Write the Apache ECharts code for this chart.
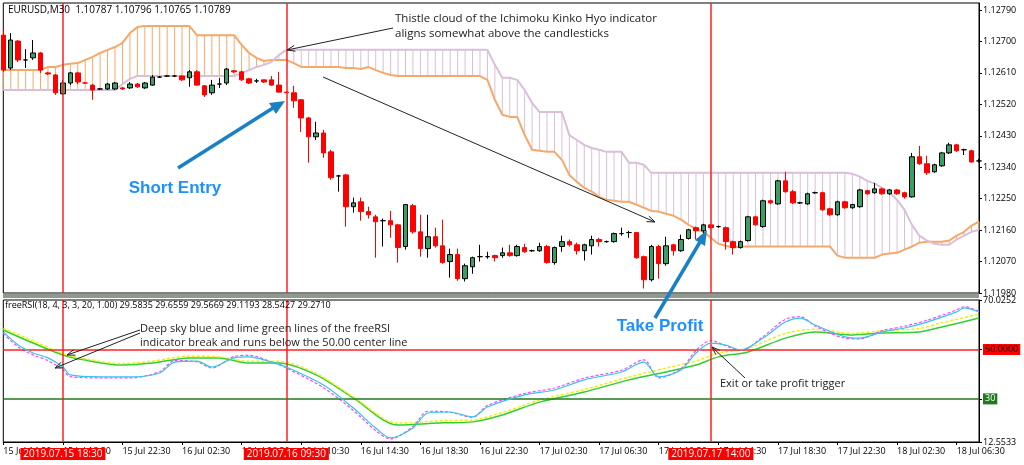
<!DOCTYPE html>
<html>
<head>
<meta charset="utf-8" />
<script src="https://cdn.jsdelivr.net/npm/echarts@6/dist/echarts.min.js"></script>
<style>
  html, body { margin: 0; padding: 0; background: #fff; }
  #main { width: 1024px; height: 465px; }
</style>
</head>
<body>
<div id="main"></div>
<script type="text/javascript">
// EURUSD M30 candles: open / close / low / high
var opens = [1.12718,1.12624,1.12701,1.12647,1.12653,1.12667,1.12610,1.12604,1.12550,1.12581,
  1.12610,1.12581,1.12575,1.12564,1.12564,1.12564,1.12567,1.12567,1.12578,1.12567,
  1.12575,1.12598,1.12601,1.12601,1.12601,1.12596,1.12613,1.12573,1.12553,1.12578,
  1.12581,1.12616,1.12613,1.12593,1.12587,1.12590,1.12590,1.12575,1.12555,1.12553,
  1.12533,1.12481,1.12427,1.12438,1.12384,1.12315,1.12318,1.12227,1.12241,1.12213,
  1.12198,1.12187,1.12187,1.12175,1.12113,1.12230,1.12155,1.12107,1.12141,1.12115,
  1.12070,1.12090,1.12021,1.12055,1.12084,1.12084,1.12087,1.12087,1.12095,1.12087,
  1.12110,1.12101,1.12101,1.12113,1.12067,1.12113,1.12127,1.12118,1.12101,1.12115,
  1.12133,1.12127,1.12127,1.12150,1.12153,1.12153,1.12084,1.12018,1.12113,1.12064,
  1.12118,1.12101,1.12136,1.12167,1.12158,1.12175,1.12170,1.12167,1.12127,1.12110,
  1.12130,1.12198,1.12170,1.12244,1.12235,1.12301,1.12270,1.12238,1.12235,1.12267,
  1.12267,1.12221,1.12204,1.12241,1.12224,1.12227,1.12273,1.12267,1.12278,1.12264,
  1.12275,1.12267,1.12255,1.12370,1.12350,1.12327,1.12344,1.12381,1.12404,1.12390,
  1.12387,1.12358];
var closes = [1.12618,1.12704,1.12647,1.12647,1.12667,1.12618,1.12607,1.12553,1.12581,1.12610,
  1.12584,1.12581,1.12561,1.12564,1.12578,1.12581,1.12564,1.12578,1.12570,1.12581,
  1.12598,1.12598,1.12601,1.12601,1.12590,1.12613,1.12575,1.12547,1.12575,1.12578,
  1.12621,1.12613,1.12590,1.12581,1.12587,1.12584,1.12575,1.12555,1.12553,1.12530,
  1.12481,1.12427,1.12438,1.12381,1.12310,1.12315,1.12227,1.12238,1.12213,1.12204,
  1.12184,1.12187,1.12175,1.12110,1.12233,1.12155,1.12107,1.12141,1.12115,1.12067,
  1.12090,1.12021,1.12058,1.12081,1.12084,1.12084,1.12081,1.12095,1.12087,1.12113,
  1.12098,1.12101,1.12113,1.12067,1.12110,1.12127,1.12118,1.12101,1.12118,1.12133,
  1.12127,1.12127,1.12150,1.12150,1.12153,1.12081,1.12018,1.12113,1.12064,1.12115,
  1.12101,1.12133,1.12161,1.12158,1.12175,1.12167,1.12170,1.12127,1.12110,1.12127,
  1.12198,1.12175,1.12244,1.12238,1.12301,1.12270,1.12238,1.12238,1.12264,1.12267,
  1.12218,1.12204,1.12241,1.12224,1.12233,1.12275,1.12264,1.12278,1.12264,1.12275,
  1.12264,1.12255,1.12370,1.12350,1.12324,1.12347,1.12381,1.12404,1.12387,1.12390,
  1.12355,1.12358];
var lows = [1.12613,1.12618,1.12641,1.12624,1.12647,1.12610,1.12604,1.12547,1.12547,1.12575,
  1.12578,1.12578,1.12533,1.12561,1.12561,1.12561,1.12561,1.12564,1.12567,1.12564,
  1.12573,1.12596,1.12598,1.12598,1.12587,1.12570,1.12573,1.12541,1.12547,1.12567,
  1.12575,1.12610,1.12587,1.12578,1.12581,1.12581,1.12573,1.12553,1.12553,1.12510,
  1.12441,1.12353,1.12418,1.12367,1.12304,1.12270,1.12170,1.12210,1.12187,1.12193,
  1.12081,1.12113,1.12138,1.12067,1.12104,1.12150,1.12084,1.12081,1.12110,1.12064,
  1.12024,1.12015,1.12013,1.12035,1.12070,1.12078,1.12070,1.12081,1.12084,1.12084,
  1.12095,1.12098,1.12098,1.12064,1.12061,1.12098,1.12113,1.12090,1.12073,1.12090,
  1.12113,1.12124,1.12124,1.12144,1.12138,1.12078,1.11993,1.12013,1.12021,1.12058,
  1.12087,1.12098,1.12133,1.12133,1.12144,1.12164,1.12167,1.12104,1.12090,1.12107,
  1.12127,1.12173,1.12167,1.12235,1.12233,1.12267,1.12235,1.12235,1.12233,1.12264,
  1.12215,1.12201,1.12201,1.12221,1.12221,1.12224,1.12261,1.12264,1.12261,1.12261,
  1.12261,1.12250,1.12253,1.12347,1.12318,1.12324,1.12341,1.12378,1.12384,1.12375,
  1.12353,1.12353];
var highs = [1.12733,1.12724,1.12704,1.12678,1.12704,1.12670,1.12613,1.12607,1.12590,1.12613,
  1.12613,1.12584,1.12578,1.12567,1.12581,1.12584,1.12570,1.12584,1.12581,1.12584,
  1.12604,1.12601,1.12604,1.12604,1.12604,1.12618,1.12618,1.12575,1.12590,1.12596,
  1.12624,1.12618,1.12616,1.12596,1.12593,1.12590,1.12601,1.12613,1.12558,1.12573,
  1.12535,1.12484,1.12470,1.12447,1.12390,1.12318,1.12321,1.12253,1.12253,1.12227,
  1.12204,1.12193,1.12215,1.12178,1.12235,1.12235,1.12204,1.12204,1.12167,1.12190,
  1.12107,1.12107,1.12064,1.12084,1.12118,1.12098,1.12090,1.12110,1.12118,1.12118,
  1.12121,1.12104,1.12124,1.12118,1.12113,1.12144,1.12133,1.12124,1.12121,1.12144,
  1.12138,1.12130,1.12153,1.12167,1.12158,1.12155,1.12087,1.12118,1.12118,1.12141,
  1.12121,1.12147,1.12164,1.12170,1.12178,1.12178,1.12173,1.12170,1.12130,1.12130,
  1.12201,1.12201,1.12247,1.12247,1.12304,1.12327,1.12275,1.12241,1.12267,1.12270,
  1.12270,1.12224,1.12244,1.12244,1.12235,1.12278,1.12275,1.12295,1.12281,1.12278,
  1.12278,1.12270,1.12381,1.12401,1.12373,1.12350,1.12384,1.12410,1.12407,1.12393,
  1.12390,1.12364];

// Ichimoku cloud: Senkou span A (sandy orange) and span B (thistle)
var spanA = [1.12618,1.12618,1.12618,1.12618,1.12618,1.12618,1.12627,1.12627,1.12633,1.12636,
  1.12638,1.12647,1.12656,1.12667,1.12676,1.12684,1.12696,1.12724,1.12741,1.12744,
  1.12744,1.12744,1.12744,1.12744,1.12744,1.12744,1.12718,1.12718,1.12718,1.12718,
  1.12718,1.12718,1.12690,1.12667,1.12653,1.12644,1.12647,1.12647,1.12647,1.12638,
  1.12627,1.12627,1.12627,1.12627,1.12627,1.12627,1.12624,1.12624,1.12621,1.12627,
  1.12618,1.12610,1.12604,1.12601,1.12601,1.12601,1.12601,1.12601,1.12601,1.12601,
  1.12601,1.12601,1.12601,1.12601,1.12601,1.12590,1.12533,1.12490,1.12484,1.12484,
  1.12432,1.12390,1.12387,1.12384,1.12384,1.12361,1.12318,1.12298,1.12281,1.12270,
  1.12255,1.12247,1.12244,1.12241,1.12241,1.12233,1.12224,1.12215,1.12213,1.12207,
  1.12201,1.12190,1.12175,1.12164,1.12155,1.12138,1.12121,1.12115,1.12110,1.12113,
  1.12113,1.12113,1.12113,1.12113,1.12113,1.12113,1.12113,1.12113,1.12113,1.12113,
  1.12113,1.12113,1.12087,1.12081,1.12081,1.12081,1.12081,1.12081,1.12090,1.12093,
  1.12095,1.12104,1.12113,1.12124,1.12127,1.12127,1.12127,1.12130,1.12144,1.12155,
  1.12173,1.12184];
var spanB = [1.12561,1.12561,1.12561,1.12561,1.12561,1.12561,1.12561,1.12561,1.12561,1.12561,
  1.12561,1.12561,1.12561,1.12561,1.12561,1.12561,1.12578,1.12593,1.12601,1.12601,
  1.12601,1.12601,1.12601,1.12601,1.12601,1.12601,1.12601,1.12601,1.12601,1.12601,
  1.12601,1.12601,1.12610,1.12618,1.12627,1.12633,1.12641,1.12661,1.12676,1.12676,
  1.12676,1.12676,1.12676,1.12676,1.12676,1.12676,1.12676,1.12676,1.12676,1.12676,
  1.12676,1.12676,1.12676,1.12676,1.12676,1.12676,1.12676,1.12676,1.12676,1.12676,
  1.12676,1.12676,1.12676,1.12676,1.12676,1.12676,1.12633,1.12596,1.12596,1.12590,
  1.12561,1.12524,1.12498,1.12498,1.12498,1.12498,1.12432,1.12418,1.12404,1.12395,
  1.12390,1.12384,1.12384,1.12384,1.12353,1.12353,1.12347,1.12324,1.12324,1.12324,
  1.12324,1.12324,1.12324,1.12324,1.12324,1.12324,1.12324,1.12324,1.12324,1.12324,
  1.12324,1.12324,1.12324,1.12324,1.12324,1.12324,1.12324,1.12324,1.12324,1.12324,
  1.12324,1.12324,1.12324,1.12324,1.12321,1.12313,1.12301,1.12293,1.12281,1.12267,
  1.12247,1.12218,1.12175,1.12144,1.12130,1.12121,1.12118,1.12118,1.12133,1.12144,
  1.12155,1.12161];

// freeRSI lines, [bar index, value]
var rsiBlue = [[0,57.1],[2,51.8],[4,48.6],[6,46.6],[8,42.9],[9,39.7],[13,38.9],[17,38.9],[21,40.5],[23,44.9],
  [26,45.3],[28,42.9],[31,46.6],[33,47.0],[36,44.9],[38,42.9],[43,35.6],[47,26.3],[50,18.2],[52,14.2],
  [55,18.2],[57,24.3],[60,24.7],[63,22.7],[65,26.7],[70,31.6],[74,33.6],[78,37.7],[83,40.9],[86,44.9],
  [88,38.9],[91,41.7],[93,48.6],[95,52.6],[97,51.8],[99,49.8],[102,54.6],[105,61.1],[107,62.7],[109,59.9],
  [113,55.1],[115,54.6],[118,57.1],[121,58.7],[124,61.1],[128,65.2],[129,66.8],[131,65.2]];
var rsiMagenta = [[0,56.5],[2,51],[4,47.8],[6,45.5],[8,41.8],[9,39],[13,38.5],[17,38.5],[21,41],[23,45.5],
  [26,45],[28,42.5],[31,47.2],[33,47.6],[36,45],[38,42.5],[43,34.5],[47,25.3],[50,17.2],[52,13.8],
  [55,18.8],[57,25],[60,24.6],[63,22.5],[65,27.3],[70,32.2],[74,34.4],[78,38.4],[83,41.6],[86,45.8],
  [88,38.5],[91,42.2],[93,49.6],[95,53.6],[97,51.5],[99,49.5],[102,55.2],[105,62.2],[107,63.3],[109,59.5],
  [113,54.6],[115,54.3],[118,57.6],[121,59.4],[124,61.8],[128,66],[129,67.3],[131,65.5]];
var rsiYellow = [[0,58.5],[4,53.5],[8,48.3],[11,46.2],[16,44.3],[20,45.3],[25,47.3],[29,47],[33,45.2],[37,45.2],
  [42,40.3],[47,30.8],[53,20.2],[59,21.2],[63,21.5],[67,24.5],[72,29.5],[78,33.8],[84,38.8],[89,42.5],
  [93,45.3],[96,48.5],[100,50.5],[105,56.5],[109,58.2],[114,56.5],[118,57.6],[123,58.5],[126,60.8],[131,64.3]];
var rsiGreen = [[0,57.9],[4,52.6],[8,47.8],[11,45.7],[16,43.7],[20,44.5],[25,46.6],[29,46.6],[33,44.5],[37,44.5],
  [42,39.7],[47,30.4],[53,19.4],[59,20.3],[63,20.7],[67,23.5],[72,28.7],[78,32.8],[84,37.7],[89,40.9],
  [93,43.7],[96,47],[100,49],[105,54.6],[109,57.1],[114,55.9],[118,56.7],[123,57.1],[126,59.1],[131,62.7]];

var rsiTicks = [12.5533, 30, 50, 70.0252];
var markBars = [8, 38, 95];
var markTexts = ['2019.07.15 18:30', '2019.07.16 09:30', '2019.07.17 14:00'];

// 30-minute bars from 15 Jul 14:30
var months = ['Jan','Feb','Mar','Apr','May','Jun','Jul','Aug','Sep','Oct','Nov','Dec'];
var times = [];
for (var i = 0; i < opens.length; i++) {
  var t = new Date(Date.UTC(2019, 6, 15, 14, 30) + i * 1800000);
  times.push(t.getUTCDate() + ' ' + months[t.getUTCMonth()] + ' ' +
    String(t.getUTCHours()).padStart(2, '0') + ':' + String(t.getUTCMinutes()).padStart(2, '0'));
}

var candles = opens.map(function (o, i) { return [o, closes[i], lows[i], highs[i]]; });
var cloud = spanA.map(function (a, i) { return [i, a, spanB[i]]; });

var FONT = 'Open Sans';
var chart = echarts.init(document.getElementById('main'));

function vLines(withLabel) {
  return {
    silent: true, symbol: 'none',
    lineStyle: { color: '#ff2020', width: 1.5, type: 'solid' },
    label: withLabel ? {
      show: true, position: 'start', distance: 6,
      formatter: function (p) { return markTexts[markBars.indexOf(p.data.xAxis)]; },
      backgroundColor: '#ff0000', color: '#fff', fontSize: 10, fontFamily: FONT, padding: [1, 3]
    } : { show: false },
    data: markBars.map(function (b) { return { xAxis: b }; })
  };
}

var blue = '#1a80c4';
var option = {
  animation: false,
  backgroundColor: '#fff',
  grid: [
    { left: 3.3, right: 45, top: 3, height: 290, show: true, borderColor: '#000', borderWidth: 1 },
    { left: 3.3, right: 45, top: 300, height: 142, show: true, borderColor: '#000', borderWidth: 1 }
  ],
  xAxis: [
    { type: 'category', data: times, gridIndex: 0, boundaryGap: false,
      axisLine: { show: false }, axisTick: { show: false }, axisLabel: { show: false }, splitLine: { show: false } },
    { type: 'category', data: times, gridIndex: 1, boundaryGap: false,
      axisLine: { lineStyle: { color: '#000' } },
      axisTick: { show: true, interval: 7, length: 3, lineStyle: { color: '#000' } },
      axisLabel: { interval: 7, align: 'left', fontSize: 9, color: '#000', fontFamily: FONT, margin: 5 },
      splitLine: { show: false } }
  ],
  yAxis: [
    { type: 'value', gridIndex: 0, position: 'right', min: 1.1198, max: 1.1281, interval: 0.0009,
      axisLine: { show: true, lineStyle: { color: '#000' } },
      axisTick: { show: true, length: 3, lineStyle: { color: '#000' } },
      axisLabel: { showMaxLabel: false, fontSize: 9, color: '#000', fontFamily: FONT, margin: 4,
        formatter: function (v) { return v.toFixed(5); } },
      splitLine: { show: false } },
    { type: 'value', gridIndex: 1, position: 'right', min: 12.5533, max: 70.0252,
      axisLine: { show: true, lineStyle: { color: '#000' } },
      axisTick: { show: true, customValues: rsiTicks, length: 3, lineStyle: { color: '#000' } },
      axisLabel: { customValues: rsiTicks, fontSize: 9, color: '#000', fontFamily: FONT, margin: 4,
        formatter: function (v) {
          if (v === 50) return '{r|50.0000}';
          if (v === 30) return '{g|30}';
          return v.toFixed(4);
        },
        rich: {
          r: { backgroundColor: '#ff0000', color: '#000', padding: [1, 2], fontSize: 9 },
          g: { backgroundColor: '#1e7b1e', color: '#fff', padding: [1, 2], fontSize: 9 }
        } },
      splitLine: { show: false } }
  ],
  series: [
    { type: 'custom', xAxisIndex: 0, yAxisIndex: 0, data: cloud, encode: { x: 0, y: [1, 2] }, z: 1,
      renderItem: function (params, api) {
        var a = api.coord([api.value(0), api.value(1)]);
        var b = api.coord([api.value(0), api.value(2)]);
        var c = api.value(1) >= api.value(2) ? '#f6a86a' : '#d9bfd9';
        return { type: 'line', shape: { x1: a[0], y1: a[1], x2: b[0], y2: b[1] }, style: { stroke: c, lineWidth: 1 } };
      } },
    { type: 'line', xAxisIndex: 0, yAxisIndex: 0, data: spanA, symbol: 'none', z: 2,
      lineStyle: { color: '#f6a86a', width: 2 } },
    { type: 'line', xAxisIndex: 0, yAxisIndex: 0, data: spanB, symbol: 'none', z: 2,
      lineStyle: { color: '#d9bfd9', width: 2 } },
    { type: 'candlestick', xAxisIndex: 0, yAxisIndex: 0, data: candles, barWidth: 5, z: 3,
      itemStyle: { color: '#3a9f63', color0: '#ff0000', borderColor: '#000', borderColor0: '#ff0000', borderWidth: 1 },
      markLine: vLines(false) },
    { type: 'line', xAxisIndex: 1, yAxisIndex: 1, data: rsiGreen, symbol: 'none', smooth: 0.3,
      lineStyle: { color: '#32cd32', width: 1.5 },
      markLine: {
        silent: true, symbol: 'none', label: { show: false },
        data: [{ yAxis: 50, lineStyle: { color: '#ff2020', width: 1.5, type: 'solid' } },
               { yAxis: 30, lineStyle: { color: '#1e7b1e', width: 1.5, type: 'solid' } }]
      } },
    { type: 'line', xAxisIndex: 1, yAxisIndex: 1, data: rsiYellow, symbol: 'none', smooth: 0.3,
      lineStyle: { color: '#f0f000', width: 1.5, type: [3, 2] } },
    { type: 'line', xAxisIndex: 1, yAxisIndex: 1, data: rsiMagenta, symbol: 'none', smooth: 0.3,
      lineStyle: { color: '#ff44ff', width: 1.2, type: [3, 2] } },
    { type: 'line', xAxisIndex: 1, yAxisIndex: 1, data: rsiBlue, symbol: 'none', smooth: 0.3, z: 5,
      lineStyle: { color: '#33c4f0', width: 1.2 }, markLine: vLines(true) }
  ],
  graphic: [
    { type: 'rect', shape: { x: 3, y: 294, width: 976, height: 4 }, style: { fill: '#8f9a8f' }, z: 50 },
    { type: 'text', left: 8, top: 5, z: 60,
      style: { text: 'EURUSD,M30  1.10787 1.10796 1.10765 1.10789', fontSize: 10, fontFamily: FONT, fill: '#000' } },
    { type: 'text', left: 5, top: 301, z: 60,
      style: { text: 'freeRSI(18, 4, 3, 3, 20, 1.00) 29.5835 29.6559 29.5669 29.1193 28.5427 29.2710', fontSize: 9, fontFamily: FONT, fill: '#000' } },
    { type: 'text', left: 395, top: 11, z: 60,
      style: { text: 'Thistle cloud of the Ichimoku Kinko Hyo indicator\naligns somewhat above the candlesticks', fontSize: 11.5, lineHeight: 15, fontFamily: FONT, fill: '#222' } },
    { type: 'polyline', z: 60, shape: { points: [[393, 28], [287, 50]] }, style: { stroke: '#222', lineWidth: 1 } },
    { type: 'polyline', z: 60, shape: { points: [[295.4, 51.2], [287, 50], [294.2, 45.4]] }, style: { stroke: '#222', lineWidth: 1, fill: null } },
    { type: 'polyline', z: 60, shape: { points: [[323, 77], [655, 222]] }, style: { stroke: '#222', lineWidth: 1 } },
    { type: 'polyline', z: 60, shape: { points: [[646.5, 221.6], [655, 222], [648.9, 216.1]] }, style: { stroke: '#222', lineWidth: 1, fill: null } },
    { type: 'text', left: 140, top: 322, z: 60,
      style: { text: 'Deep sky blue and lime green lines of the freeRSI\nindicator break and runs below the 50.00 center line', fontSize: 11, lineHeight: 14, fontFamily: FONT, fill: '#222' } },
    { type: 'polyline', z: 60, shape: { points: [[140, 330], [67, 355]] }, style: { stroke: '#222', lineWidth: 1 } },
    { type: 'polyline', z: 60, shape: { points: [[75.5, 355.2], [67, 355], [73.6, 349.6]] }, style: { stroke: '#222', lineWidth: 1, fill: null } },
    { type: 'polyline', z: 60, shape: { points: [[140, 333], [55, 368]] }, style: { stroke: '#222', lineWidth: 1 } },
    { type: 'polyline', z: 60, shape: { points: [[63.5, 367.8], [55, 368], [61.3, 362.2]] }, style: { stroke: '#222', lineWidth: 1, fill: null } },
    { type: 'text', left: 720, top: 378, z: 60,
      style: { text: 'Exit or take profit trigger', fontSize: 11, fontFamily: FONT, fill: '#222' } },
    { type: 'polyline', z: 60, shape: { points: [[745, 378], [712, 347]] }, style: { stroke: '#222', lineWidth: 1 } },
    { type: 'polyline', z: 60, shape: { points: [[719.9, 350.3], [712, 347], [715.8, 354.7]] }, style: { stroke: '#222', lineWidth: 1, fill: null } },
    { type: 'polyline', z: 60, shape: { points: [[178, 168], [273, 108]] }, style: { stroke: blue, lineWidth: 3.5 } },
    { type: 'polygon', z: 60, shape: { points: [[285, 101], [276, 114], [269, 103]] }, style: { fill: blue } },
    { type: 'text', z: 60, x: 175, y: 188,
      style: { text: 'Short Entry', fontSize: 17, fontWeight: 'bold', fontFamily: 'Liberation Sans', fill: '#1e90ff', align: 'center', verticalAlign: 'middle' } },
    { type: 'polyline', z: 60, shape: { points: [[655, 318], [700, 242]] }, style: { stroke: blue, lineWidth: 3.5 } },
    { type: 'polygon', z: 60, shape: { points: [[707, 230], [705, 246], [695, 240]] }, style: { fill: blue } },
    { type: 'text', z: 60, x: 660, y: 326,
      style: { text: 'Take Profit', fontSize: 17, fontWeight: 'bold', fontFamily: 'Liberation Sans', fill: '#1e90ff', align: 'center', verticalAlign: 'middle' } }
  ]
};
chart.setOption(option);
</script>
</body>
</html>
